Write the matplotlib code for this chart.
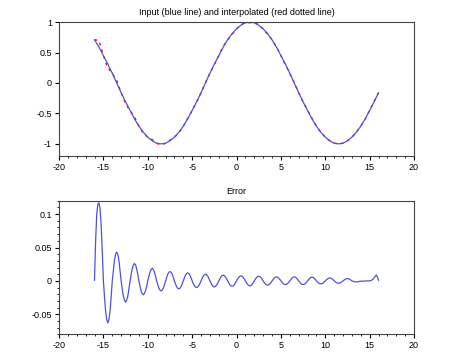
import numpy as np
import matplotlib
matplotlib.use("Agg")
import matplotlib.pyplot as plt
from matplotlib.ticker import MultipleLocator

plt.rcParams['font.family'] = ['Liberation Sans', 'DejaVu Sans']
plt.rcParams['axes.unicode_minus'] = False

# input signal (blue), read every 0.5 from -16 to 16
x_in = np.arange(-16, 16.01, 0.5)
y_in = [0.71, 0.59, 0.45, 0.31, 0.16, 0.00, -0.16, -0.31, -0.45, -0.59,
        -0.71, -0.81, -0.89, -0.95, -0.99, -1.00, -0.99, -0.95, -0.89, -0.81,
        -0.71, -0.59, -0.45, -0.31, -0.16, 0.00, 0.16, 0.31, 0.45, 0.59,
        0.71, 0.81, 0.89, 0.95, 0.99, 1.00, 0.99, 0.95, 0.89, 0.81,
        0.71, 0.59, 0.45, 0.31, 0.16, 0.00, -0.16, -0.31, -0.45, -0.59,
        -0.71, -0.81, -0.89, -0.95, -0.99, -1.00, -0.99, -0.95, -0.89, -0.81,
        -0.71, -0.59, -0.45, -0.31, -0.16]

# interpolated signal (red dotted)
y_interp = [0.71, 0.70, 0.45, 0.25, 0.16, 0.04, -0.16, -0.34, -0.45, -0.56,
            -0.71, -0.83, -0.89, -0.93, -0.99, -1.02, -0.99, -0.94, -0.89, -0.82,
            -0.71, -0.58, -0.45, -0.32, -0.16, 0.01, 0.16, 0.30, 0.45, 0.60,
            0.71, 0.80, 0.89, 0.96, 0.99, 0.99, 0.99, 0.96, 0.89, 0.80,
            0.71, 0.59, 0.45, 0.30, 0.16, 0.01, -0.16, -0.31, -0.45, -0.58,
            -0.71, -0.81, -0.89, -0.95, -0.99, -1.00, -0.99, -0.95, -0.89, -0.81,
            -0.71, -0.59, -0.45, -0.30, -0.16]

# error, read every 0.125 from -16 to 16 (one row per unit of x)
x_err = np.arange(-16, 16.001, 0.125)
err = [0.001, 0.06, 0.10, 0.115, 0.117, 0.108, 0.083, 0.045,
       0, -0.024, -0.045, -0.058, -0.063, -0.058, -0.045, -0.024,
       0, 0.016, 0.031, 0.040, 0.043, 0.040, 0.031, 0.016,
       0, -0.012, -0.023, -0.029, -0.032, -0.029, -0.023, -0.012,
       0, 0.010, 0.018, 0.024, 0.026, 0.024, 0.018, 0.010,
       0, -0.008, -0.015, -0.019, -0.021, -0.019, -0.015, -0.008,
       0, 0.007, 0.013, 0.017, 0.019, 0.017, 0.013, 0.007,
       0, -0.0057, -0.011, -0.0138, -0.015, -0.0138, -0.011, -0.0057,
       0, 0.0053, 0.010, 0.0129, 0.014, 0.0129, 0.010, 0.0053,
       0, -0.0046, -0.0085, -0.011, -0.012, -0.011, -0.0085, -0.0046,
       0, 0.0046, 0.0085, 0.011, 0.012, 0.011, 0.0085, 0.0046,
       0, -0.0038, -0.0071, -0.0092, -0.010, -0.0092, -0.0071, -0.0038,
       0, 0.0038, 0.0071, 0.0092, 0.010, 0.0092, 0.0071, 0.0038,
       0, -0.0034, -0.0064, -0.0083, -0.009, -0.0083, -0.0064, -0.0034,
       0, 0.0032, 0.006, 0.0078, 0.0085, 0.0078, 0.006, 0.0032,
       0, -0.003, -0.0057, -0.0074, -0.008, -0.0074, -0.0057, -0.003,
       0, 0.0029, 0.0053, 0.0069, 0.0075, 0.0069, 0.0053, 0.0029,
       0, -0.0029, -0.0053, -0.0069, -0.0075, -0.0069, -0.0053, -0.0029,
       0, 0.0027, 0.005, 0.0064, 0.007, 0.0064, 0.005, 0.0027,
       0, -0.0025, -0.0046, -0.006, -0.0065, -0.006, -0.0046, -0.0025,
       0, 0.0023, 0.0043, 0.0055, 0.006, 0.0055, 0.0043, 0.0023,
       0, -0.0021, -0.0039, -0.0051, -0.0055, -0.0051, -0.0039, -0.0021,
       0, 0.0023, 0.0043, 0.0055, 0.006, 0.0055, 0.0043, 0.0023,
       0, -0.0021, -0.0039, -0.0051, -0.0055, -0.0051, -0.0039, -0.0021,
       0, 0.0021, 0.0039, 0.0051, 0.0055, 0.0051, 0.0039, 0.0021,
       0, -0.0017, -0.0032, -0.0041, -0.0045, -0.0041, -0.0032, -0.0017,
       0, 0.0017, 0.0032, 0.0041, 0.0045, 0.0041, 0.0032, 0.0017,
       0, -0.0013, -0.0025, -0.0032, -0.0035, -0.0032, -0.0025, -0.0013,
       0, 0.0013, 0.0025, 0.0032, 0.0035, 0.0032, 0.0025, 0.0013,
       0, -0.0006, -0.0011, -0.0014, -0.0015, -0.0014, -0.0011, -0.0006,
       -0.0004, -0.0005, -0.0005, -0.0004, -0.0002, 0.0, 0.0, 0.0,
       0.0, 0.0004, 0.0012, 0.0025, 0.0045, 0.0068, 0.0088, 0.006,
       0.001]

blue = '#5050e0'

fig = plt.figure(figsize=(4.74, 3.57), dpi=100)
ax1 = fig.add_axes([0.1245, 0.563, 0.749, 0.375])
ax2 = fig.add_axes([0.1245, 0.0636, 0.749, 0.374])

ax1.plot(x_in, y_interp, color='red', lw=1.0, dashes=(2, 3))
ax1.plot(x_in, y_in, color=blue, lw=0.9)
ax1.set_xlim(-20, 20)
ax1.set_ylim(-1.2, 1)
ax1.set_yticks([-1, -0.5, 0, 0.5, 1])
ax1.set_yticklabels(['-1', '-0.5', '0', '0.5', '1'])
ax1.set_title('Input (blue line) and interpolated (red dotted line)', fontsize=6.5, pad=5)

ax2.plot(x_err, err, color=blue, lw=0.9)
ax2.set_xlim(-20, 20)
ax2.set_ylim(-0.08, 0.12)
ax2.set_yticks([-0.05, 0, 0.05, 0.1])
ax2.set_yticklabels(['-0.05', '0', '0.05', '0.1'])
ax2.yaxis.set_minor_locator(MultipleLocator(0.01))
ax2.set_title('Error', fontsize=6.5, pad=5)

for ax in (ax1, ax2):
    ax.set_xticks(range(-20, 21, 5))
    ax.set_xticklabels([str(v) for v in range(-20, 21, 5)])
    ax.xaxis.set_minor_locator(MultipleLocator(1))
    ax.tick_params(which='major', length=3, width=0.8, labelsize=6.5, pad=2)
    ax.tick_params(which='minor', length=1.5, width=0.6)
    for s in ax.spines.values():
        s.set_color('#444444')
        s.set_linewidth(0.8)

fig.savefig('out.png', dpi=100)
